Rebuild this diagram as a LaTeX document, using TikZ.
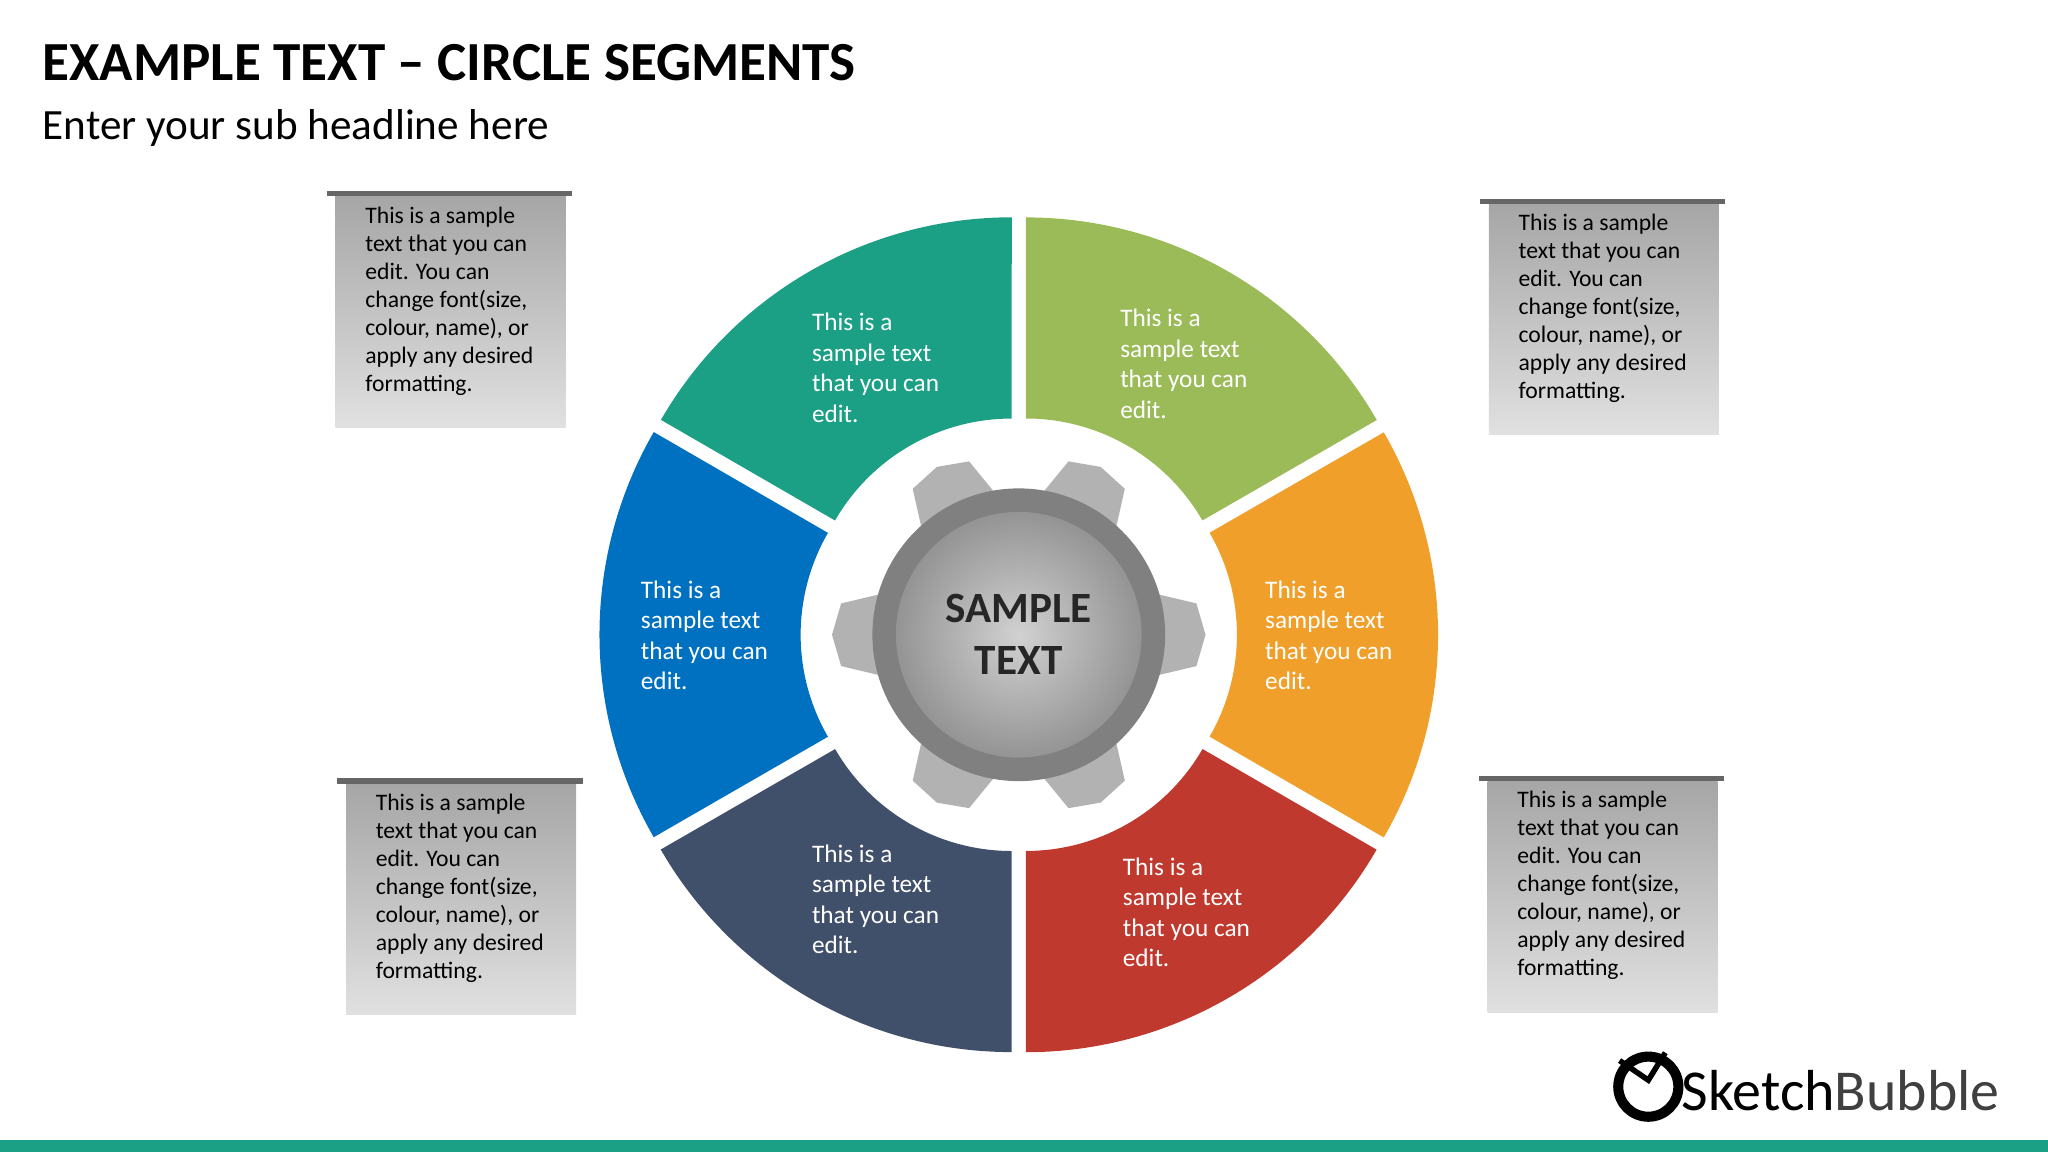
\documentclass[tikz,border=0pt]{standalone}
\usepackage{fontspec}
\setmainfont{Carlito}
\begin{document}
\begin{tikzpicture}[x=0.01cm,y=0.01cm,
  segtxt/.style={text=white,align=left,anchor=north west,font=\fontsize{5.5}{6.65}\selectfont,inner sep=0},
  boxtxt/.style={text=black,align=left,anchor=north west,font=\fontsize{5.15}{6.1}\selectfont,inner sep=0},
  tooth/.style={fill=black!30}]
\useasboundingbox (0,0) rectangle (1568,882);
\definecolor{cteal}{HTML}{1BA085}\definecolor{cgreen}{HTML}{9BBB59}
\definecolor{corange}{HTML}{F0A02A}\definecolor{cred}{HTML}{C0392F}
\definecolor{cnavy}{HTML}{41506A}\definecolor{cblue}{HTML}{0070C0}
\definecolor{cbar}{HTML}{1BA085}
% title
\node[anchor=west,inner sep=0,font=\fontsize{12}{14}\selectfont\bfseries] (title) at (32,834) {EXAMPLE TEXT – CIRCLE SEGMENTS};
\node[anchor=west,inner sep=0,font=\fontsize{9.4}{11}\selectfont] (sub) at (32,784) {Enter your sub headline here};
% segments
\coordinate (c) at (780,396);
\foreach \a/\col in {90/cteal,30/cgreen,-30/corange,-90/cred,-150/cnavy,150/cblue}{
  \pgfmathsetmacro{\b}{\a+60}\pgfmathsetmacro{\m}{\a+30}
  \fill[\col,shift={(c)},shift={(\m:11)}] (\a:156) arc[start angle=\a,end angle=\b,radius=1.56cm] -- (\b:310) arc[start angle=\b,end angle=\a,radius=3.10cm] -- cycle;
}
\node[segtxt] (t1) at (621,643) {This is a\\sample text\\that you can\\edit.};
\node[segtxt] (t2) at (857,646) {This is a\\sample text\\that you can\\edit.};
\node[segtxt] (t3) at (968,438) {This is a\\sample text\\that you can\\edit.};
\node[segtxt] (t4) at (859,226) {This is a\\sample text\\that you can\\edit.};
\node[segtxt] (t5) at (621,236) {This is a\\sample text\\that you can\\edit.};
\node[segtxt] (t6) at (490,438) {This is a\\sample text\\that you can\\edit.};
% gear
\foreach \a in {0,64,116,180,244,296}{
  \fill[tooth,shift={(c)},rotate=\a] (60,-42) -- (136,-24) -- (143,0) -- (136,24) -- (60,42) -- cycle;
}
\fill[black!50] (c) circle[radius=1.12cm];
\shade[inner color=black!18,outer color=black!42] (c) circle[radius=0.94cm];
\node[font=\fontsize{9.4}{11.3}\selectfont\bfseries,align=center,text=black!85] (ct) at (c) {SAMPLE\\TEXT};
% side boxes
\foreach \x/\y/\n in {257/555/b1,1140/549/b2,265/105/b3,1139/107/b4}{
  \shade[top color=black!35,bottom color=black!12] (\x,\y) rectangle ++(176,177);
  \fill[black!60] (\x-7,\y+177) rectangle ++(188,4);
}
\node[boxtxt] (x1) at (279,724) {This is a sample\\text that you can\\edit. You can\\change font(size,\\colour, name), or\\apply any desired\\formatting.};
\node[boxtxt] (x2) at (1162,719) {This is a sample\\text that you can\\edit. You can\\change font(size,\\colour, name), or\\apply any desired\\formatting.};
\node[boxtxt] (x3) at (287,275) {This is a sample\\text that you can\\edit. You can\\change font(size,\\colour, name), or\\apply any desired\\formatting.};
\node[boxtxt] (x4) at (1161,277) {This is a sample\\text that you can\\edit. You can\\change font(size,\\colour, name), or\\apply any desired\\formatting.};
% bottom bar and logo
\fill[cbar] (0,0) rectangle (1568,9);
\draw[line width=2.2pt] (1262,50) circle[radius=0.23cm];
\draw[line width=1.2pt] (1240,70) -- (1262,55) -- (1275,76);
\node[anchor=west,inner sep=0,font=\fontsize{12.6}{14}\selectfont] (logo) at (1287,47) {Sketch\textcolor{black!75}{Bubble}};
\end{tikzpicture}
\end{document}
